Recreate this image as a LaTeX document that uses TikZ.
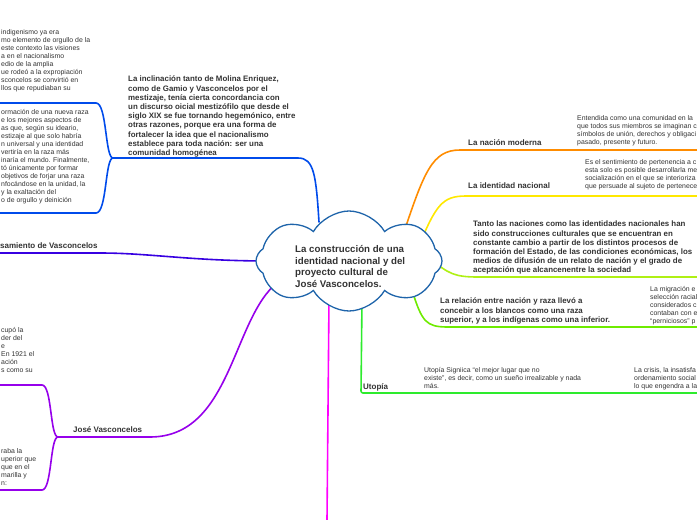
\documentclass[tikz,border=0pt]{standalone}
\usepackage{fontspec}
\setmainfont{Liberation Sans}
\usetikzlibrary{shapes.symbols,backgrounds,positioning}
\definecolor{cloudblue}{RGB}{30,100,170}
\definecolor{topblue}{RGB}{0,75,235}
\definecolor{indigoline}{RGB}{55,0,225}
\definecolor{violetline}{RGB}{150,0,235}
\definecolor{magentaline}{RGB}{255,0,255}
\definecolor{utopiagreen}{RGB}{45,235,45}
\definecolor{razagreen}{RGB}{110,235,0}
\definecolor{tantolime}{RGB}{175,240,20}
\definecolor{identyellow}{RGB}{255,232,0}
\definecolor{nacionorange}{RGB}{255,140,0}
\definecolor{inkgray}{RGB}{51,51,51}

\begin{document}
\begin{tikzpicture}[x=1pt, y=-1pt,
    branch/.style={line width=1.6pt, line cap=round},
    topic/.style={font=\fontsize{8}{9}\selectfont\bfseries, text=inkgray, inner sep=0pt, anchor=west},
    note/.style={font=\fontsize{6.9}{8}\selectfont, text=inkgray, inner sep=0pt, anchor=north west, align=left},
    bignote/.style={font=\fontsize{7.9}{9.2}\selectfont\bfseries, text=inkgray, inner sep=0pt, anchor=north west, align=left},
    roottext/.style={font=\fontsize{9.7}{11.7}\selectfont\bfseries, text=inkgray, inner sep=0pt, anchor=north west, align=left}]
    \useasboundingbox (0,0) rectangle (697,520);

    % Central idea
    \node[cloud, cloud puffs=8, cloud puff arc=120, aspect=1.9, draw=cloudblue, line width=1.3pt, fill=white,
          minimum width=186pt, minimum height=100pt, inner sep=0pt] (root) at (349,261) {};
    \node[roottext] (root txt) at (295,245) {La construcción de una\\identidad nacional y del\\proyecto cultural de\\José Vasconcelos.};

    % Branch points
    \coordinate (incl knot) at (113,158);
    \coordinate (jose knot) at (58,437);

    \begin{scope}[on background layer]
    % La nacion moderna
    \draw[branch, nacionorange] (402,238) .. controls (424,172) and (432,150) .. (460,150) -- (697,150);
    % La identidad nacional
    \draw[branch, identyellow] (418,248) .. controls (436,205) and (442,196) .. (466,196) -- (697,196);
    % Tanto las naciones
    \draw[branch, tantolime] (430,258) .. controls (448,274) and (455,277) .. (478,277) -- (697,277);
    % Nacion y raza
    \draw[branch, razagreen] (412,290) .. controls (422,322) and (426,327) .. (448,327) -- (697,327);
    % Utopia
    \draw[branch, utopiagreen, rounded corners=2pt] (362,300) -- (361,393) -- (697,393);
    % Lower branch
    \draw[branch, magentaline] (329,300) -- (327,520);
    % Jose Vasconcelos
    \draw[branch, violetline] (278,282) .. controls (232,318) and (232,437) .. (150,437) -- (jose knot);
    \draw[branch, violetline] (jose knot) .. controls (50,437) and (52,385) .. (42,385) -- (0,385);
    \draw[branch, violetline] (jose knot) .. controls (50,437) and (52,490) .. (42,490) -- (0,490);
    % Pensamiento
    \draw[branch, indigoline] (270,261) .. controls (190,261) and (150,253) .. (100,253) -- (0,253);
    % Mestizaje
    \draw[branch, topblue] (319,222) .. controls (316,175) and (314,158) .. (298,158) -- (incl knot);
    \draw[branch, topblue] (incl knot) .. controls (105,158) and (107,103) .. (96,103) -- (0,103);
    \draw[branch, topblue] (incl knot) .. controls (105,158) and (107,213) .. (96,213) -- (0,213);
    \end{scope}

    % Right side labels
    \node[topic] (nacion) at (468,143) {La nación moderna};
    \node[note] (nacion txt) at (577,115) {Entendida como una comunidad en la\\que todos sus miembros se imaginan c\\símbolos de unión, derechos y obligaci\\pasado, presente y futuro.};
    \node[topic] (identidad) at (468,186) {La identidad nacional};
    \node[note] (identidad txt) at (585,159) {Es el sentimiento de pertenencia a c\\esta solo es posible desarrollarla me\\socialización en el que se interioriza\\que persuade al sujeto de pertenece};
    \node[bignote] (tanto) at (473,221) {Tanto las naciones como las identidades nacionales han\\sido construcciones culturales que se encuentran en\\constante cambio a partir de los distintos procesos de\\formación del Estado, de las condiciones económicas, los\\medios de difusión de un relato de nación y el grado de\\aceptación que alcancenentre la sociedad};
    \node[bignote] (relacion) at (440,298) {La relación entre nación y raza llevó a\\concebir a los blancos como una raza\\superior, y a los indígenas como una inferior.};
    \node[note] (migracion) at (650,286) {La migración e\\selección racial\\considerados c\\contaban con e\\“perniciosos” p};
    \node[topic] (utopia) at (363,387) {Utopía};
    \node[note] (utopia txt) at (424,367) {Utopía Signiica “el mejor lugar que no\\ existe”, es decir, como un sueño irrealizable y nada\\más.};
    \node[note] (crisis) at (634,367) {La crisis, la insatisfa\\ordenamiento social\\lo que engendra a la};

    % Left side labels
    \node[topic] (jose) at (73,430) {José Vasconcelos};
    \node[note] (jose up) at (1,327) {cupó la\\der del\\e\\En 1921 el\\ación\\s como su};
    \node[note] (jose down) at (1,448) {raba la\\uperior que\\que en el\\marilla y\\n:};
    \node[topic] (pensamiento) at (0,246) {samiento de Vasconcelos};
    \node[bignote] (inclinacion) at (128,76) {La inclinación tanto de Molina Enriquez,\\como de Gamio y Vasconcelos por el\\mestizaje, tenía cierta concordancia con\\un discurso oicial mestizófilo que desde el\\siglo XIX se fue tornando hegemónico, entre\\otras razones, porque era una forma de\\fortalecer la idea que el nacionalismo\\establece para toda nación: ser una\\comunidad homogénea};
    \node[note] (indigenismo) at (1,29) {indigenismo ya era\\mo elemento de orgullo de la\\este contexto las visiones\\a en el nacionalismo\\edio de la amplia\\ue rodeó a la expropiación\\sconcelos se convirtió en\\llos que repudiaban su};
    \node[note] (nueva raza) at (1,109) {ormación de una nueva raza\\e los mejores aspectos de\\as que, según su ideario,\\estizaje al que solo habría\\n universal y una identidad\\vertiría en la raza más\\inaría el mundo. Finalmente,\\tó únicamente por formar\\objetivos de forjar una raza\\nfocándose en la unidad, la\\y la exaltación del\\o de orgullo y deinición};
\end{tikzpicture}
\end{document}
